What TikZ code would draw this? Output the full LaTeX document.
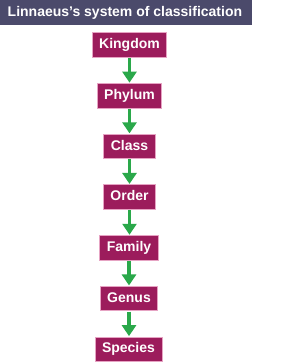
\documentclass[tikz,border=0pt]{standalone}
\usepackage{fontspec}
\setmainfont{Liberation Sans}
\usetikzlibrary{arrows.meta}
\definecolor{titlebg}{HTML}{4B4A6B}
\definecolor{boxfill}{HTML}{9C1C5C}
\definecolor{boxline}{HTML}{E6A3C3}
\definecolor{arrowgreen}{HTML}{2AA84A}
\tikzset{
  rankbox/.style={draw=boxline, line width=0.8pt, fill=boxfill, text=white,
    font=\fontsize{14}{16}\selectfont\bfseries, inner xsep=7pt, inner ysep=0pt,
    minimum height=24.5pt, text height=10.2pt, text depth=3pt},
  link/.style={draw=arrowgreen, line width=3.5pt,
    -{Triangle[width=14pt,length=11pt]}, shorten <=0.4pt, shorten >=0.4pt},
  titletext/.style={text=white, font=\fontsize{14}{16}\selectfont\bfseries, anchor=west, inner sep=0pt}
}
\begin{document}
\begin{tikzpicture}[x=1pt,y=-1pt]
\useasboundingbox (0,0) rectangle (304,362);
\fill[titlebg] (0,0) rectangle (252,25);
\node[titletext] (title) at (7.5,12.5) {Linnaeus’s system of classification};
\node[rankbox] (kingdom) at (129.5,45) {Kingdom};
\node[rankbox] (phylum) at (129.5,95.7) {Phylum};
\node[rankbox] (class) at (129.5,146.4) {Class};
\node[rankbox] (order) at (129.5,197) {Order};
\node[rankbox] (family) at (129,247.8) {Family};
\node[rankbox] (genus) at (129,298.5) {Genus};
\node[rankbox] (species) at (128.5,349.2) {Species};
\draw[link] (kingdom.south) -- (kingdom.south |- phylum.north);
\draw[link] (phylum.south) -- (phylum.south |- class.north);
\draw[link] (class.south) -- (class.south |- order.north);
\draw[link] (order.south) -- (order.south |- family.north);
\draw[link] (family.south) -- (family.south |- genus.north);
\draw[link] (genus.south) -- (genus.south |- species.north);
\end{tikzpicture}
\end{document}
